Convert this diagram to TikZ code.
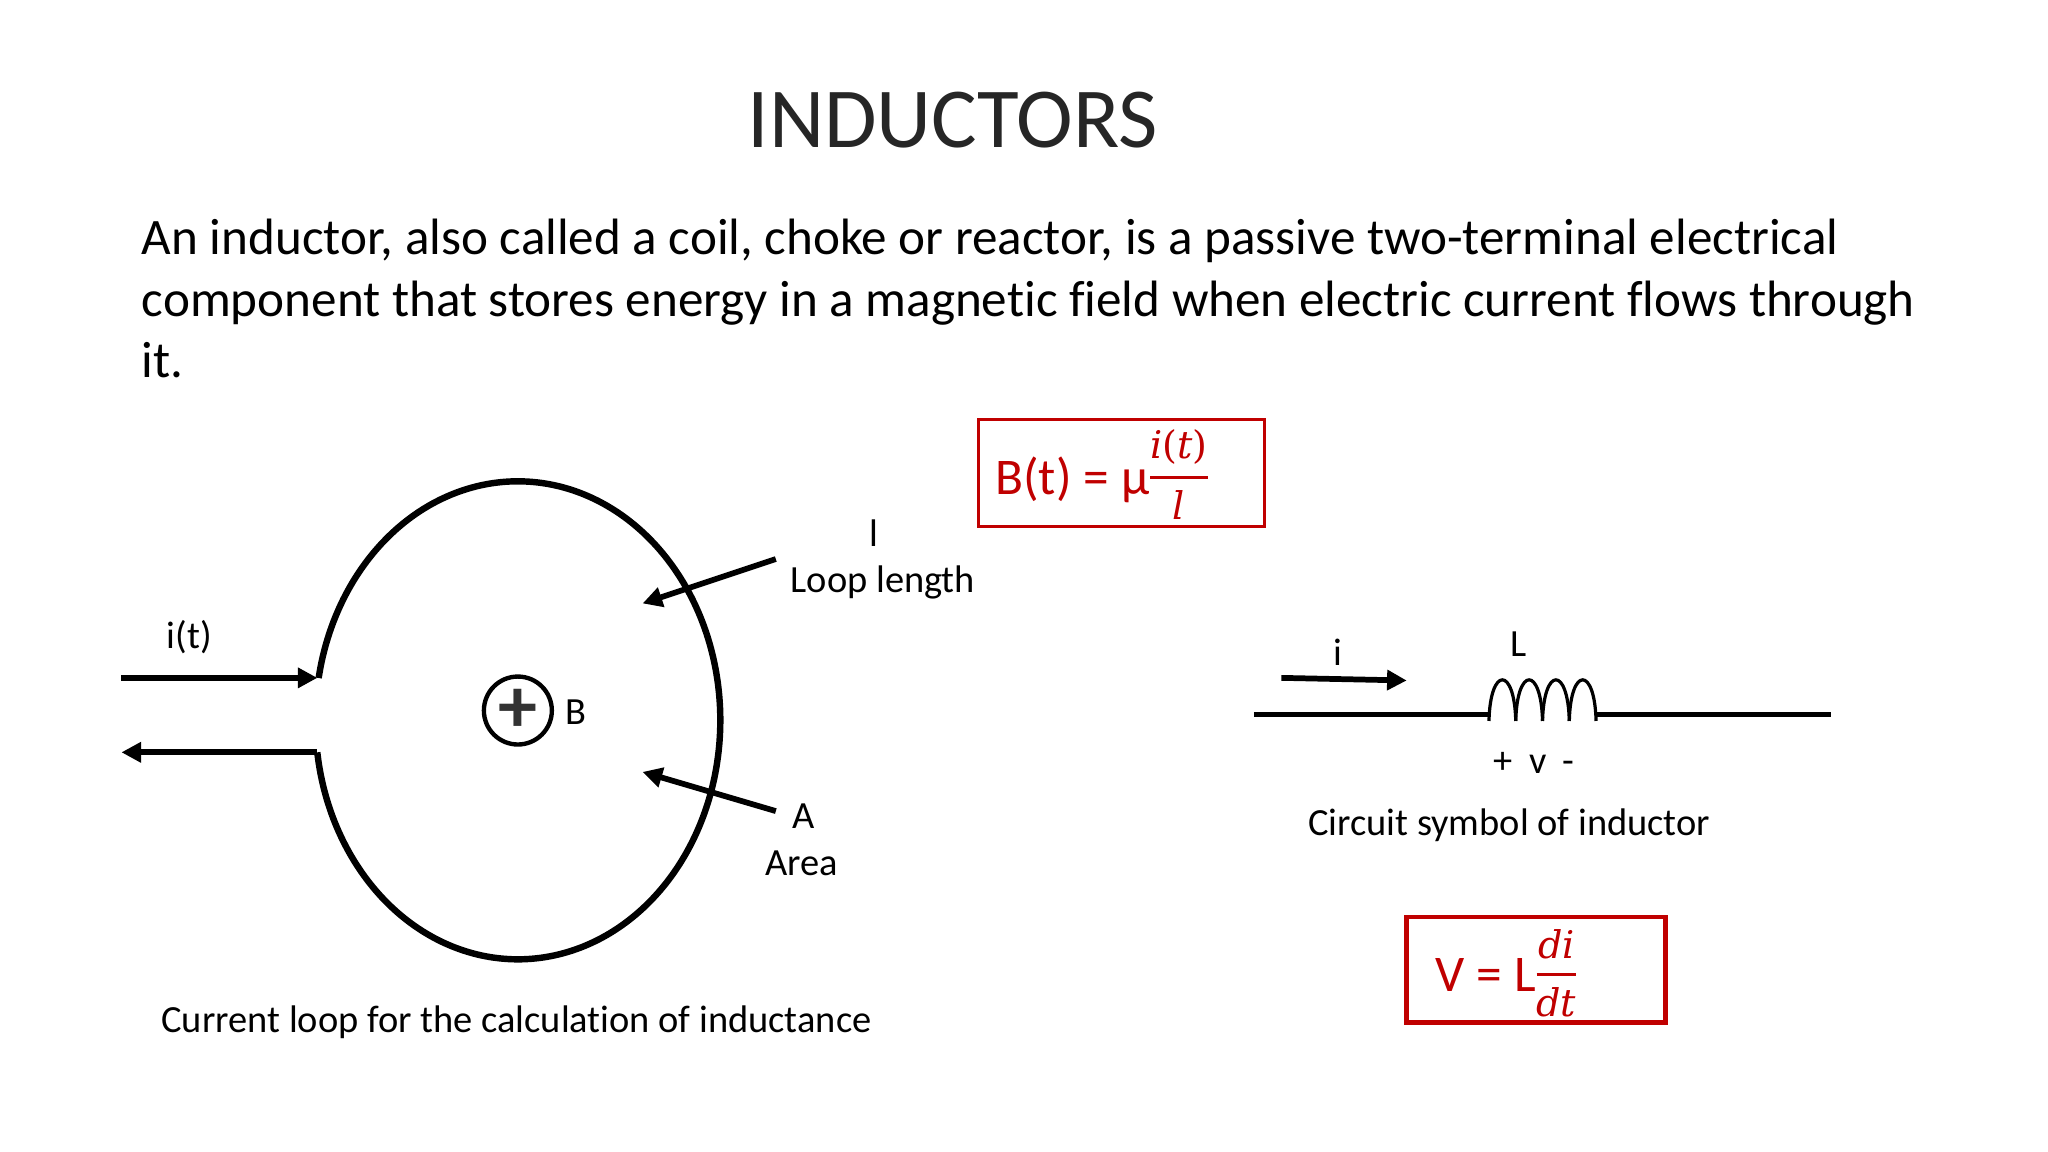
\documentclass[tikz,border=0pt]{standalone}
\usepackage{fontspec}
\setmainfont{Carlito}[RawFeature={-liga;-clig}]
\newfontfamily\fracfont{DejaVu Serif}
\usetikzlibrary{arrows.meta}
\definecolor{boxred}{HTML}{C00000}
\newcommand{\redfrac}[2]{\raisebox{1.7pt}[13.7pt][4.2pt]{\fontsize{8}{10}\selectfont$\displaystyle{\hbox{\fontsize{8.3}{10}\fracfont #1}\above.8pt\hbox{\fontsize{8.3}{10}\fracfont #2}}$}}
\tikzset{
	label text/.style={font=\fontsize{8.37}{10}\selectfont, inner sep=0pt},
	thick arrow/.style={line width=1.25pt, -{Triangle[length=1.5mm, width=1.5mm]}},
	loop line/.style={line width=1.4pt},
	formula box/.style={draw=boxred, text=boxred, inner ysep=0pt, anchor=center, align=left, font=\fontsize{11.2}{13}\selectfont},
}
\begin{document}
\begin{tikzpicture}[x=.01cm,y=-.01cm]
	\useasboundingbox (0,0) rectangle (1568,882);
	% Heading
	\node[anchor=base, inner sep=0pt, text=black!85, font=\fontsize{18.6}{22}\selectfont] (title) at (729.5,113) {INDUCTORS};
	\node[anchor=base west, inner sep=0pt, align=left, font=\fontsize{11.13}{13.37}\selectfont] (intro) at (108,289) {An inductor, also called a coil, choke or reactor, is a passive two-terminal electrical\\component that stores energy in a magnetic field when electric current flows through\\it.};
	% Current loop
	\draw[loop line, domain=190.2:532.3, smooth, samples=120, variable=\t] plot ({396.5+155*cos(\t)},{551.5+183*sin(\t)});
	\coordinate (inStart) at (93,519);
	\coordinate (inEnd) at (243,519);
	\coordinate (outStart) at (243,576);
	\coordinate (outEnd) at (93,576);
	\draw[thick arrow] (inStart) -- (inEnd);
	\draw[thick arrow] (outStart) -- (outEnd);
	\node[label text] (it) at (145,488) {i(t)};
	\node[draw, circle, line width=.95pt, minimum size=.52cm, inner sep=0pt, font=\fontsize{17}{17}\selectfont\bfseries, text=black!80] (bfield) at (396.5,544) {\raisebox{-1.2pt}{+}};
	\node[label text] (blabel) at (441,545) {B};
	\coordinate (lengthTail) at (594,428);
	\coordinate (lengthHead) at (492,462);
	\draw[thick arrow] (lengthTail) -- (lengthHead);
	\node[label text] (lsym) at (669,408) {l};
	\node[label text] (looplength) at (676,446) {Loop length};
	\coordinate (areaTail) at (594,621);
	\coordinate (areaHead) at (492,591);
	\draw[thick arrow] (areaTail) -- (areaHead);
	\node[label text] (asym) at (615,625) {A};
	\node[label text] (area) at (614,661) {Area};
	\node[label text] (loopcaption) at (395.5,783) {Current loop for the calculation of inductance};
	% Formula boxes
	\node[formula box, line width=.6pt, inner xsep=.13cm, minimum height=.82cm, text width=1.93cm] (bformula) at (858.5,362) {B(t)\hspace{.24em}=\hspace{.24em}μ\kern-1.2pt\redfrac{\textit{i}(\textit{t})}{\textit{l}}};
	\node[formula box, line width=1pt, inner xsep=.22cm, minimum height=.81cm, text width=1.54cm] (vformula) at (1176,742.5) {V\hspace{.24em}=\hspace{.24em}L\kern-1.2pt\redfrac{\textit{di}}{\textit{dt}}};
	% Circuit symbol
	\coordinate (wireLeft) at (960,547);
	\coordinate (coilLeft) at (1140,547);
	\coordinate (coilRight) at (1222,547);
	\coordinate (wireRight) at (1402,547);
	\draw[line width=.9pt] (wireLeft) -- (coilLeft);
	\draw[line width=.9pt] (coilRight) -- (wireRight);
	\foreach \k in {0,1,2,3}
		\draw[line width=.7pt] (1140+20.5*\k,552) .. controls (1141+20.5*\k,510) and (1159.5+20.5*\k,510) .. (1160.5+20.5*\k,552);
	\coordinate (iStart) at (981,519);
	\coordinate (iEnd) at (1077,521);
	\draw[thick arrow] (iStart) -- (iEnd);
	\node[label text] (isym) at (1024.5,499.5) {i};
	\node[label text] (lcoil) at (1162.5,493.5) {L};
	\node[label text] (polarity) at (1174.5,584) {+\hspace{.42em}v\hspace{.42em}-};
	\node[label text] (circuitcaption) at (1155.5,631.5) {Circuit symbol of inductor};
\end{tikzpicture}
\end{document}
